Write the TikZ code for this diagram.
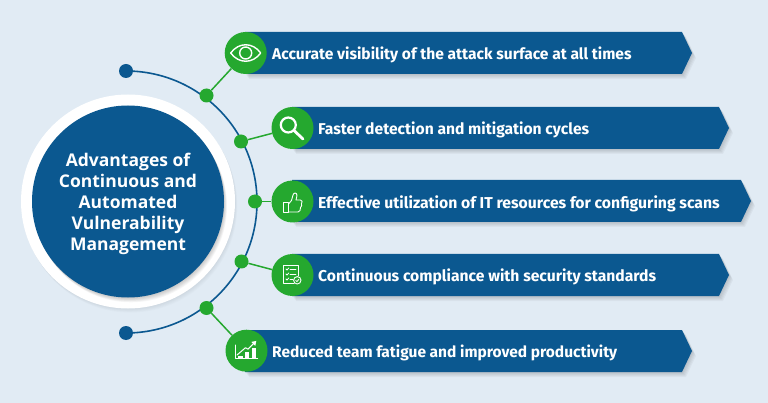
\documentclass[tikz,border=0pt]{standalone}
\usepackage{fontspec}
\setmainfont{Fira Sans}
\newfontfamily\titlefont{Open Sans}
\definecolor{pagebg}{HTML}{E1EBF4}
\definecolor{navy}{HTML}{0B5890}
\definecolor{leaf}{HTML}{25A82F}
\pgfdeclarelayer{back}
\pgfdeclarelayer{wires}
\pgfsetlayers{back,wires,main}
\tikzset{
  x=1pt,y=-1pt,
  iconcircle/.style={circle,fill=leaf,minimum size=42pt,inner sep=0pt},
  greendot/.style={circle,fill=leaf,minimum size=14pt,inner sep=0pt},
  navydot/.style={circle,fill=navy,minimum size=14pt,inner sep=0pt},
  link/.style={draw=leaf,line width=1.5pt},
  bannertext/.style={anchor=west,text=white,inner sep=0pt,font=\fontsize{#1}{18}\selectfont\bfseries},
  bannertext/.default=15.6,
  iconline/.style={draw=white,line width=1pt,line cap=round,line join=round},
}
% #1 top y, #2 shoulder x, #3 left x
\newcommand{\bannerpath}[3]{(#3,#1) -- (#2,#1) -- ({#2+10},{#1+21}) -- (#2,{#1+42}) -- (#3,{#1+42}) -- cycle}
\newcommand{\banner}[3]{%
  \foreach \k in {1,...,5}{\fill[black,opacity=0.035,shift={({\k*0.8},{\k*1.0})}] \bannerpath{#1}{#2}{#3};}
  \fill[navy] \bannerpath{#1}{#2}{#3};
}
\begin{document}
\begin{tikzpicture}
\useasboundingbox (0,0) rectangle (768,403);
\begin{pgfonlayer}{back}
\fill[pagebg] (0,0) rectangle (768,403);
\foreach \k in {1,...,6}{\fill[black,opacity=0.012] ({128+\k*0.4},{201.5+\k*0.7}) circle[radius=107pt];}
\fill[white] (128,201.5) circle[radius=107pt];
\foreach \k in {1,...,6}{\fill[black,opacity=0.035] ({128+\k*0.5},{201.5+\k*0.8}) circle[radius=96pt];}
\banner{32}{682}{245}
\banner{107}{719}{292}
\banner{180}{741}{292}
\banner{254}{719}{292}
\banner{330}{682}{245}
\end{pgfonlayer}
% dots and icon circles
\node[navydot] (top) at (126,71) {};
\node[navydot] (bottom) at (126,333) {};
\node[greendot] (d1) at (206.5,95.5) {};
\node[greendot] (d2) at (241,141.5) {};
\node[greendot] (d3) at (255,201.5) {};
\node[greendot] (d4) at (241.5,261.5) {};
\node[greendot] (d5) at (206.5,308) {};
\node[iconcircle] (c1) at (245.7,53) {};
\node[iconcircle] (c2) at (292.5,128) {};
\node[iconcircle] (c3) at (292.5,201.5) {};
\node[iconcircle] (c4) at (292.5,275) {};
\node[iconcircle] (c5) at (246.5,350.7) {};
\begin{pgfonlayer}{wires}
\draw[navy,line width=1.6pt] (top.center) arc[start angle=90,end angle=-90,radius=131pt];
\foreach \a/\b in {d1/c1,d2/c2,d3/c3,d4/c4,d5/c5}{\draw[link] (\a) -- (\b);}
\end{pgfonlayer}
\node[circle,fill=navy,minimum size=192pt,inner sep=0pt] (hub) at (128,201.5) {};
\node[align=center,text=white,inner sep=0pt,font=\fontsize{17.5}{21}\selectfont\titlefont\bfseries] (title) at (128,204)
  {Advantages of\\Continuous and\\Automated\\Vulnerability\\Management};
% banner texts
\node[bannertext] (t1) at (272,55) {Accurate visibility of the attack surface at all times};
\node[bannertext=15.65] (t2) at (318,130) {Faster detection and mitigation cycles};
\node[bannertext=15.75] (t3) at (318,203.5) {Effective utilization of IT resources for configuring scans};
\node[bannertext=15.68] (t4) at (318,277) {Continuous compliance with security standards};
\node[bannertext=15.5] (t5) at (272,352.5) {Reduced team fatigue and improved productivity};
% eye icon
\begin{scope}[shift={(c1)}]
\draw[iconline,line width=1.4pt] (-15,0) .. controls (-7,-11) and (7,-11) .. (15,0) .. controls (7,11) and (-7,11) .. (-15,0) -- cycle;
\draw[white,line width=1.4pt] (0,0) circle[radius=6pt];
\end{scope}
% magnifier
\begin{scope}[shift={(c2)}]
\draw[white,line width=2.2pt] (-4.2,-3) circle[radius=7.5pt];
\draw[white,line width=2.8pt,line cap=round] (1.5,2.5) -- (10.5,11);
\end{scope}
% thumb
\begin{scope}[shift={(c3)}]
\draw[iconline,line width=0.9pt] (-9,1) rectangle (-4,10.5);
\draw[iconline,line width=0.9pt] (-4,2.5) -- (-1,-1) -- (0.5,-6.5) .. controls (1,-9) and (4.5,-9.5) .. (4.5,-6) -- (3.5,-1.5) -- (8,-1.5) .. controls (10,-1.5) and (10,1) .. (9,2) .. controls (9.5,4) and (9,5) .. (8,6) .. controls (8,8) and (7.5,10.5) .. (5.5,10.5) -- (-4,10.5);
\end{scope}
% checklist
\begin{scope}[shift={(c4)}]
\draw[iconline,line width=0.9pt] (3,8.3) -- (-9,8.3) -- (-9,-9.3) -- (6,-9.3) -- (6,1.5);
\foreach \r in {-6,-1,4}{
  \draw[iconline,line width=0.8pt] (-6.5,\r) -- (-5.5,{\r+1}) -- (-3.7,{\r-1});
  \draw[iconline,line width=0.9pt] (-2.5,\r) -- (3.5,\r);
}
\fill[leaf] (4.8,5.3) circle[radius=4.4pt];
\draw[iconline,line width=0.9pt] (4.8,5.3) circle[radius=3.7pt];
\draw[iconline,line width=0.8pt] (3.2,5.3) -- (4.4,6.6) -- (6.4,4.2);
\end{scope}
% chart
\begin{scope}[shift={(c5)}]
\draw[iconline,line width=1pt] (-11.5,-5.7) -- (-11.5,7.6) -- (11.2,7.6);
\fill[white] (-8.2,5.6) rectangle (-3.8,6.8);
\fill[white] (-1.5,1.6) rectangle (2.8,6.8);
\fill[white] (5.2,-3) rectangle (9.5,6.8);
\draw[iconline,line width=1pt] (-9.5,4.3) -- (-1,-3) -- (1.5,-1.5) -- (8,-8);
\fill[white] (9.8,-9.8) -- (4.8,-8.8) -- (8.8,-4.8) -- cycle;
\end{scope}
\end{tikzpicture}
\end{document}
